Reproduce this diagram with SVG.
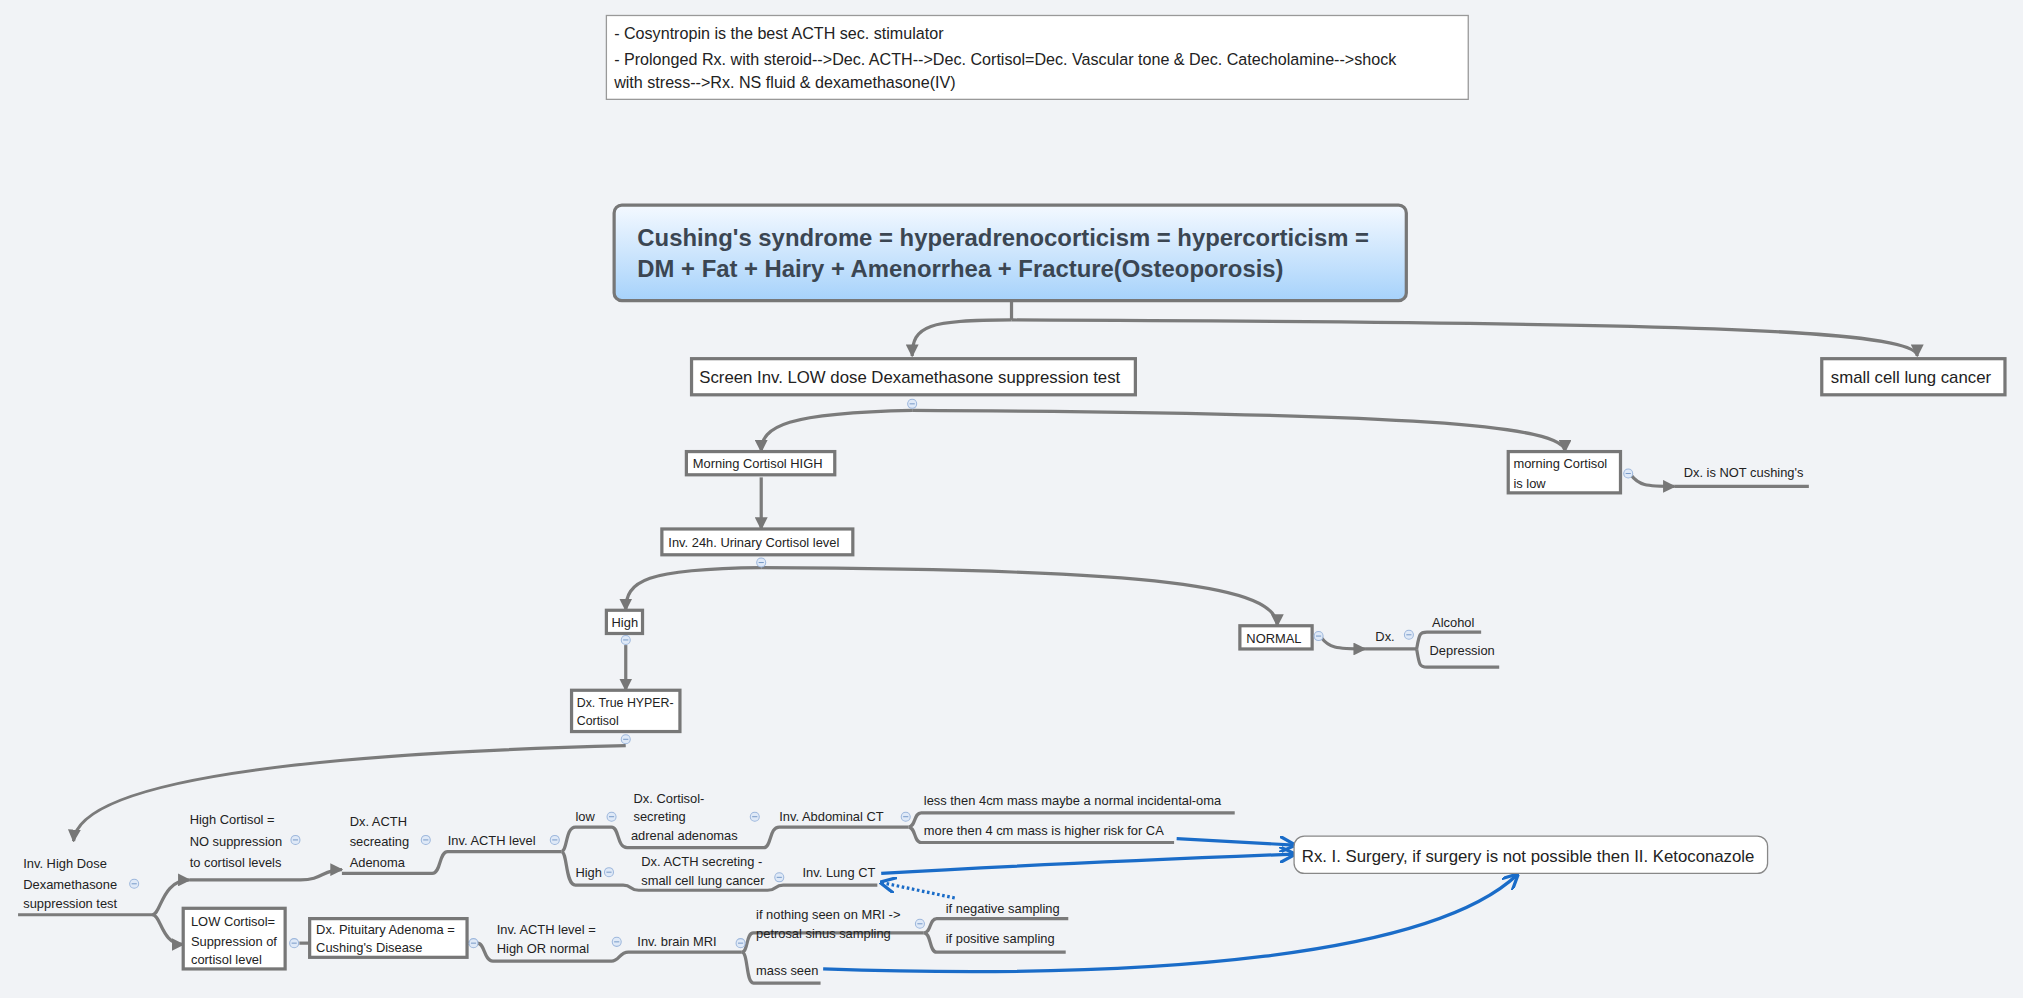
<svg xmlns="http://www.w3.org/2000/svg" width="2023" height="998" viewBox="0 0 2023 998">
<defs>
<linearGradient id="rg" x1="0" y1="0" x2="0" y2="1"><stop offset="0" stop-color="#f4f9ff"/><stop offset="1" stop-color="#a6d2fb"/></linearGradient>
<marker id="ga" viewBox="0 0 10 10" refX="9" refY="5" markerWidth="4" markerHeight="4" orient="auto"><path d="M0,0L10,5L0,10z" fill="#777"/></marker>
<marker id="ba" viewBox="0 0 10 10" refX="9" refY="5" markerWidth="5" markerHeight="5" orient="auto"><path d="M0,0L10,5L0,10" fill="none" stroke="#1a6cc8" stroke-width="2"/></marker>
<g id="o"><circle r="3.5" fill="#dfe9f7" stroke="#9db7dc" stroke-width="0.8"/><path d="M-2,0H2" stroke="#7a9cc9" stroke-width="0.8"/></g>
</defs>
<style>
text{font-family:"Liberation Sans",Arial,sans-serif;font-size:10px;fill:#222}
.b{fill:#fff;stroke:#777;stroke-width:2.5}
.c{fill:none;stroke:#7b7b7b;stroke-width:2.5}
.bl{fill:none;stroke:#1a6cc8;stroke-width:2.5}
</style>
<rect width="2023" height="998" fill="#f1f3f6"/>
<g transform="scale(1.2902)">
<g id="connectors">
<path class="c" d="M784,233V248"/>
<path class="c" d="M784,248C720,248 707,252 707,276" marker-end="url(#ga)"/>
<path class="c" d="M784,248C1300,250 1486,255 1486,276" marker-end="url(#ga)"/>
<path class="c" d="M707,318C610,320 590,330 590,350" marker-end="url(#ga)"/>
<path class="c" d="M707,318C1100,320 1213,330 1213,350" marker-end="url(#ga)"/>
<path class="c" d="M1264,368C1270,376 1275,377 1298,377" marker-end="url(#ga)"/>
<path class="c" d="M1298,377H1402"/>
<path class="c" d="M590,370V410" marker-end="url(#ga)"/>
<path class="c" d="M590,440C500,441 485,450 485,473" marker-end="url(#ga)"/>
<path class="c" d="M590,440C900,441 990,455 990,485" marker-end="url(#ga)"/>
<path class="c" d="M1024,494C1030,502 1035,503 1058,503" marker-end="url(#ga)"/>
<path class="c" d="M1058,503H1098"/>
<path class="c" d="M1098,503C1100,492 1100,490 1106,490H1148M1098,503C1100,515 1100,517 1106,517H1162"/>
<path class="c" d="M485,500V535" marker-end="url(#ga)"/>
<path class="c" d="M485,578C200,585 60,610 57,652" marker-end="url(#ga)"/>
<path class="c" d="M14,709H118C125,709 125,682 147,682" marker-end="url(#ga)"/>
<path class="c" d="M118,709C125,709 125,732 142,732" marker-end="url(#ga)"/>
<path class="c" d="M147,682H233C250,682 250,674 265,674" marker-end="url(#ga)"/>
<path class="c" d="M232,731H240"/>
<path class="c" d="M265,677H335C342,677 340,660 347,660H435"/>
<path class="c" d="M435,660C440,660 438,641 446,641H474C480,641 478,657 486,657H592C598,657 596,641 604,641H704M435,660C440,660 438,686 446,686H483C490,686 488,690 495,690H595C602,690 600,686 607,686H680"/>
<path class="c" d="M704,641C710,641 708,630 714,630H957M704,641C710,641 708,653 714,653H910"/>
<path class="c" d="M362,731H370C376,731 375,745 382,745H474C480,745 480,738 487,738H575"/>
<path class="c" d="M575,738C580,738 578,723 584,723H716M575,738C580,738 578,762 584,762H636"/>
<path class="c" d="M716,723C722,723 720,712 726,712H828M716,723C722,723 720,738 726,738H826"/>
<path class="bl" d="M912,650L1003,655" marker-end="url(#ba)"/>
<path class="bl" d="M683,677C800,670 900,666 1003,662" marker-end="url(#ba)"/>
<path class="bl" d="M740,696L683,684" stroke-dasharray="2,2" marker-end="url(#ba)"/>
<path class="bl" d="M638,751C900,760 1110,740 1176,678" marker-end="url(#ba)"/>
</g>
<g id="note"><rect x="470" y="12" width="668" height="65" fill="#fff" stroke="#999"/>
<text x="476" y="30" style="font-size:12.5px">- Cosyntropin is the best ACTH sec. stimulator</text>
<text x="476" y="50" style="font-size:12.5px">- Prolonged Rx. with steroid--&gt;Dec. ACTH--&gt;Dec. Cortisol=Dec. Vascular tone &amp; Dec. Catecholamine--&gt;shock</text>
<text x="476" y="68" style="font-size:12.5px">with stress--&gt;Rx. NS fluid &amp; dexamethasone(IV)</text></g>
<g id="root"><rect x="476" y="159" width="614" height="74" rx="6" fill="url(#rg)" stroke="#777" stroke-width="2.5"/>
<text x="494" y="191" style="font-size:18.5px;font-weight:bold;fill:#3b4652">Cushing's syndrome = hyperadrenocorticism = hypercorticism =</text>
<text x="494" y="215" style="font-size:18.5px;font-weight:bold;fill:#3b4652">DM + Fat + Hairy + Amenorrhea + Fracture(Osteoporosis)</text></g>
<g id="screen"><rect class="b" x="536" y="278" width="344" height="28"/><text x="542" y="297" style="font-size:13px">Screen Inv. LOW dose Dexamethasone suppression test</text><use href="#o" x="707" y="313"/></g>
<g id="sclc"><rect class="b" x="1412" y="278" width="142" height="28"/><text x="1419" y="297" style="font-size:13px">small cell lung cancer</text></g>
<g id="mhigh"><rect class="b" x="532" y="350" width="115" height="18"/><text x="537" y="363">Morning Cortisol HIGH</text></g>
<g id="mlow"><rect class="b" x="1169" y="350" width="87" height="32"/><text x="1173" y="363">morning Cortisol</text><text x="1173" y="378">is low</text><use href="#o" x="1262" y="367"/></g>
<g id="notc"><text x="1305" y="370">Dx. is NOT cushing's</text></g>
<g id="urine"><rect class="b" x="513" y="410" width="148" height="20"/><text x="518" y="424">Inv. 24h. Urinary Cortisol level</text><use href="#o" x="590" y="436"/></g>
<g id="high"><rect class="b" x="470" y="473" width="28" height="18"/><text x="474" y="486">High</text><use href="#o" x="485" y="496"/></g>
<g id="normal"><rect class="b" x="961" y="485" width="56" height="18"/><text x="966" y="498">NORMAL</text><use href="#o" x="1022" y="493"/></g>
<g id="dx1"><text x="1066" y="497">Dx.</text><use href="#o" x="1092" y="492"/></g>
<g id="alc"><text x="1110" y="486">Alcohol</text></g>
<g id="dep"><text x="1108" y="508">Depression</text></g>
<g id="true"><rect class="b" x="443" y="535" width="84" height="32"/><text x="447" y="548" style="font-size:9.6px">Dx. True HYPER-</text><text x="447" y="562" style="font-size:9.6px">Cortisol</text><use href="#o" x="485" y="573"/></g>
<g id="highdose"><text x="18" y="673">Inv. High Dose</text><text x="18" y="689">Dexamethasone</text><text x="18" y="704">suppression test</text><use href="#o" x="104" y="685"/></g>
<g id="hc"><text x="147" y="639">High Cortisol =</text><text x="147" y="656">NO suppression</text><text x="147" y="672">to cortisol levels</text><use href="#o" x="229" y="651"/></g>
<g id="lc"><rect class="b" x="142" y="704" width="79" height="47"/><text x="148" y="718">LOW Cortisol=</text><text x="148" y="733">Suppression of</text><text x="148" y="747">cortisol level</text><use href="#o" x="228" y="731"/></g>
<g id="acthad"><text x="271" y="640">Dx. ACTH</text><text x="271" y="656">secreating</text><text x="271" y="672">Adenoma</text><use href="#o" x="330" y="651"/></g>
<g id="acthlvl"><text x="347" y="655">Inv. ACTH  level</text><use href="#o" x="430" y="651"/></g>
<g id="low"><text x="446" y="636">low</text><use href="#o" x="474" y="633"/></g>
<g id="hi2"><text x="446" y="680">High</text><use href="#o" x="472" y="676"/></g>
<g id="dxcort"><text x="491" y="622">Dx. Cortisol-</text><text x="491" y="636">secreting</text><text x="489" y="651">adrenal adenomas</text><use href="#o" x="585" y="633"/></g>
<g id="abd"><text x="604" y="636">Inv. Abdominal CT</text><use href="#o" x="702" y="633"/></g>
<g id="less"><text x="716" y="624">less then 4cm mass maybe a normal incidental-oma</text></g>
<g id="more"><text x="716" y="647">more then 4 cm mass is higher risk for CA</text></g>
<g id="dxacth"><text x="497" y="671">Dx. ACTH secreting -</text><text x="497" y="686">small cell lung cancer</text><use href="#o" x="604" y="680"/></g>
<g id="lung"><text x="622" y="680">Inv. Lung CT</text></g>
<g id="rx"><rect x="1003" y="648" width="367" height="29" rx="8" fill="#fff" stroke="#888"/><text x="1009" y="668" style="font-size:13px">Rx. I. Surgery, if surgery is not possible then II. Ketoconazole</text></g>
<g id="pit"><rect class="b" x="240" y="712" width="122" height="30"/><text x="245" y="724">Dx. Pituitary Adenoma =</text><text x="245" y="738">Cushing's Disease</text><use href="#o" x="367" y="731"/></g>
<g id="acth2"><text x="385" y="724">Inv.  ACTH level =</text><text x="385" y="739">High OR normal</text><use href="#o" x="478" y="730"/></g>
<g id="mri"><text x="494" y="733">Inv. brain MRI</text><use href="#o" x="574" y="731"/></g>
<g id="nothing"><text x="586" y="712">if nothing seen on MRI -&gt;</text><text x="586" y="727">petrosal sinus sampling</text><use href="#o" x="713" y="716"/></g>
<g id="mass"><text x="586" y="756">mass seen</text></g>
<g id="neg"><text x="733" y="708">if negative sampling</text></g>
<g id="pos"><text x="733" y="731">if positive sampling</text></g>
</g>
</svg>
